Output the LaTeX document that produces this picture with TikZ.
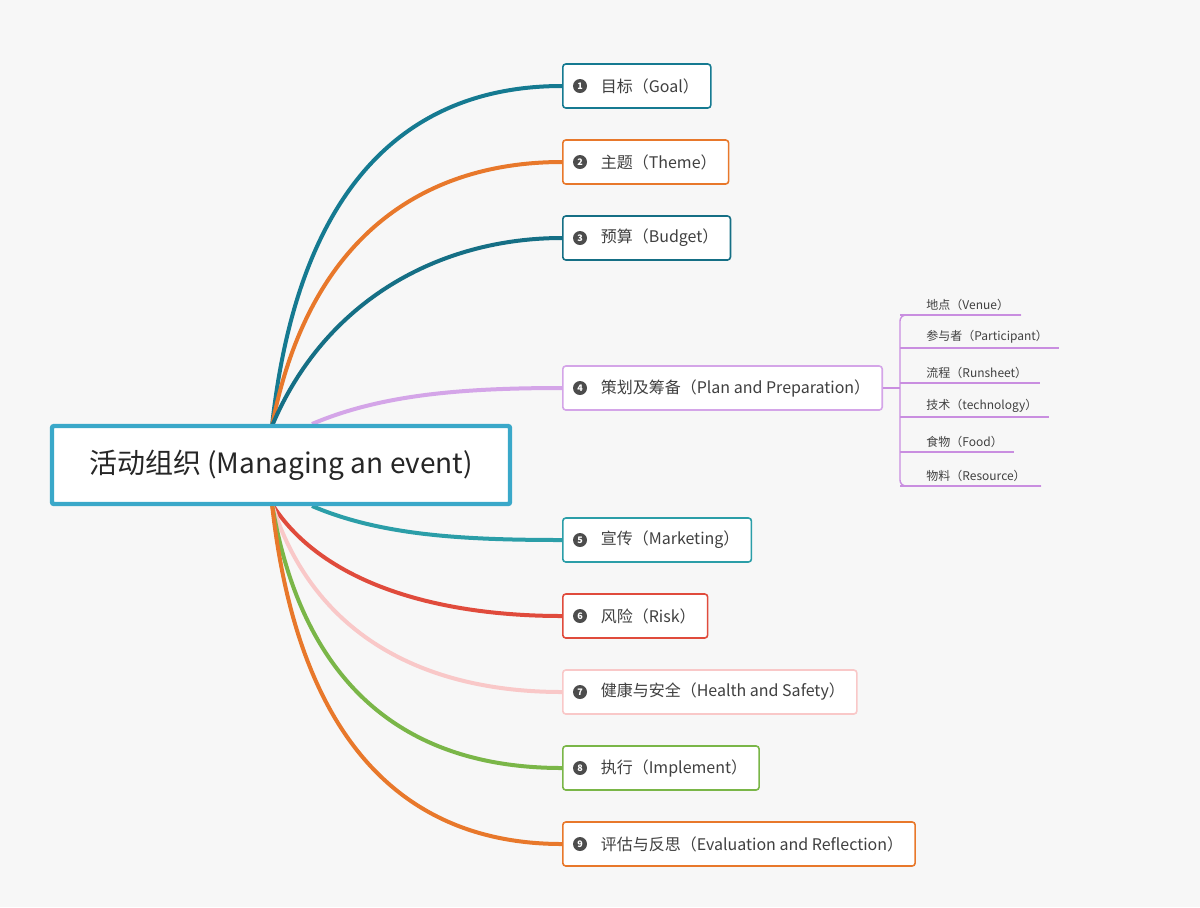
\documentclass[tikz,border=0pt]{standalone}
\usepackage{fontspec}
\setmainfont{Noto Sans CJK SC}
\begin{document}
\begin{tikzpicture}[x=0.5pt,y=-0.5pt,
  box/.style={draw=#1,line width=0.8pt,fill=white,rounded corners=1.5pt,anchor=west,minimum height=22pt,inner xsep=6pt,font=\fontsize{8}{10}\selectfont,text=black!75},
  num/.style={circle,fill=black!70,text=white,inner sep=0pt,minimum size=7pt,font=\fontsize{4.5}{5}\selectfont\bfseries},
  br/.style={draw=#1,line width=2pt},
  subl/.style={draw=subc,line width=0.7pt},
  sub/.style={anchor=south west,inner sep=0pt,font=\fontsize{6}{7}\selectfont,text=black!75}]
\definecolor{cA}{HTML}{157A91}\definecolor{cB}{HTML}{E8782B}\definecolor{cC}{HTML}{156F85}
\definecolor{cD}{HTML}{D4A5E8}\definecolor{cE}{HTML}{2B9EA8}\definecolor{cF}{HTML}{E04B3C}
\definecolor{cG}{HTML}{F9C8C8}\definecolor{cH}{HTML}{7AB648}\definecolor{cI}{HTML}{E8782B}
\definecolor{subc}{HTML}{C98EE0}\definecolor{cen}{HTML}{3AA8C9}
\fill[black!3] (0,0) rectangle (1200,907);
\useasboundingbox (0,0) rectangle (1200,907);
\coordinate (su) at (272,426);
\coordinate (sd) at (272,504);
\coordinate (s4) at (312,424);
\coordinate (s5) at (312,506);
\newcommand\bx[5]{\node[box=#3] (#1) at (562,#2) {\hspace*{13pt}#5};\node[num] (n#1) at (580,#2) {#4};}
\bx{b1}{86}{cA}{1}{目标（Goal）}
\bx{b2}{162}{cB}{2}{主题（Theme）}
\bx{b3}{238}{cC}{3}{预算（Budget）}
\bx{b4}{388}{cD}{4}{策划及筹备（Plan and Preparation）}
\bx{b5}{540}{cE}{5}{宣传（Marketing）}
\bx{b6}{616}{cF}{6}{风险（Risk）}
\bx{b7}{692}{cG}{7}{健康与安全（Health and Safety）}
\bx{b8}{768}{cH}{8}{执行（Implement）}
\bx{b9}{844}{cI}{9}{评估与反思（Evaluation and Reflection）}
\draw[br=cA] (su) .. controls (300,170) and (420,86) .. (b1.west);
\draw[br=cB] (su) .. controls (310,230) and (430,162) .. (b2.west);
\draw[br=cC] (su) .. controls (325,300) and (440,238) .. (b3.west);
\draw[br=cD] (s4) .. controls (380,395) and (460,388) .. (b4.west);
\draw[br=cE] (s5) .. controls (380,535) and (460,540) .. (b5.west);
\draw[br=cF] (sd) .. controls (320,580) and (430,616) .. (b6.west);
\draw[br=cG] (sd) .. controls (315,640) and (430,692) .. (b7.west);
\draw[br=cH] (sd) .. controls (305,700) and (420,768) .. (b8.west);
\draw[br=cI] (sd) .. controls (300,760) and (420,844) .. (b9.west);
\node[draw=cen,line width=2.2pt,fill=white,rounded corners=1pt,minimum width=229pt,minimum height=39pt,font=\fontsize{14}{16}\selectfont,text=black!85] (c) at (281,465) {活动组织 (Managing an event)};
% sub items
\coordinate (j) at (900,388);
\draw[subl] (b4.east) -- (j);
\draw[subl,rounded corners=3pt] (1021,315) -- (900,315) -- (900,486) -- (1041,486);
\newcommand\si[4]{\node[sub] (#1) at (926,#2-4) {#4};\draw[subl] (900,#2) -- (#3,#2);}
\si{t1}{315}{1021}{地点（Venue）}
\si{t2}{348}{1059}{参与者（Participant）}
\si{t3}{383}{1040}{流程（Runsheet）}
\si{t4}{417}{1049}{技术（technology）}
\si{t5}{452}{1014}{食物（Food）}
\si{t6}{486}{1041}{物料（Resource）}
\end{tikzpicture}
\end{document}
